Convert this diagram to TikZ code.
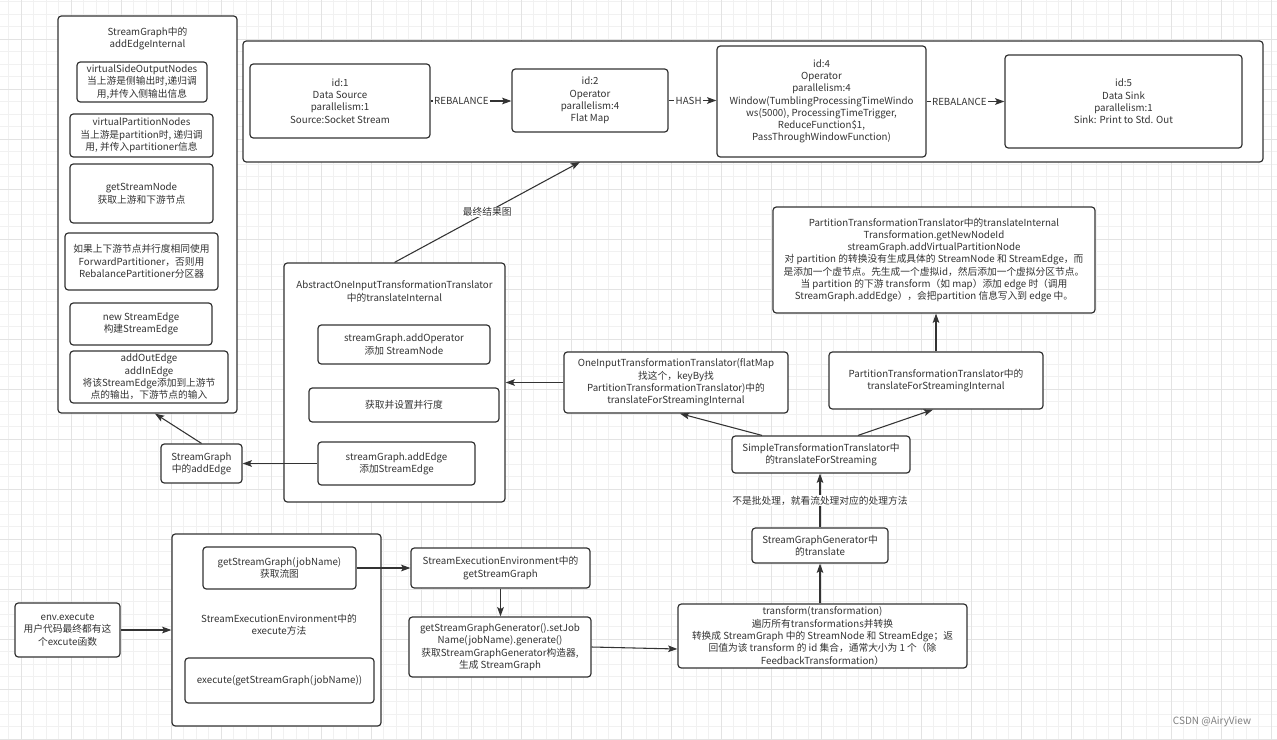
\documentclass[tikz,border=0pt]{standalone}
\usepackage{fontspec}
\setmainfont{Noto Sans CJK SC}
\usetikzlibrary{arrows.meta,calc}
\definecolor{ink}{HTML}{333333}
\definecolor{gridminor}{HTML}{F1F1F1}
\definecolor{gridmajor}{HTML}{E3E3E3}
\begin{document}
\begin{tikzpicture}[x=0.75pt,y=-0.75pt,
  every node/.style={font=\fontsize{7.3pt}{9.2pt}\selectfont, text=ink},
  box/.style 2 args={draw=ink, line width=0.9pt, rounded corners=2.5pt, fill=white, align=center, inner sep=0pt, minimum width=#1*0.75pt, minimum height=#2*0.75pt},
  lbl/.style={align=center, inner sep=0pt},
  elab/.style={fill=white, inner sep=1pt},
  arr/.style={draw=ink, line width=0.8pt, -{Stealth[length=7pt,width=5pt,inset=1.5pt]}},
  plain/.style={draw=ink, line width=0.8pt}]
\useasboundingbox (0,0) rectangle (1277,739);
\fill[white] (0,0) rectangle (1277,739);
% grid
\foreach \k in {0,...,101}{\pgfmathsetmacro\xx{8.5+12.5*\k}\draw[gridminor,line width=0.75pt] (\xx,0) -- (\xx,739);}
\foreach \k in {0,...,58}{\pgfmathsetmacro\yy{1.5+12.5*\k}\draw[gridminor,line width=0.75pt] (0,\yy) -- (1277,\yy);}
\foreach \k in {0,...,25}{\pgfmathsetmacro\xx{21+50*\k}\draw[gridmajor,line width=0.75pt] (\xx,0) -- (\xx,739);}
\foreach \k in {0,...,14}{\pgfmathsetmacro\yy{39+50*\k}\draw[gridmajor,line width=0.75pt] (0,\yy) -- (1277,\yy);}

% left container
\node[box={179}{397}] (L) at (147.5,214.5) {};
\node[lbl] (Ltitle) at (147.5,38.5) {StreamGraph中的\\addEdgeInternal};
\node[box={130}{40}] (n1) at (142,82) {virtualSideOutputNodes\\当上游是侧输出时,递归调\\用,并传入侧输出信息};
\node[box={143}{43}] (n2) at (141.5,135.5) {virtualPartitionNodes\\当上游是partition时, 递归调\\用, 并传入partitioner信息};
\node[box={143}{59}] (n3) at (141.5,193.5) {getStreamNode\\获取上游和下游节点};
\node[box={153}{57}] (n4) at (141.5,261.5) {如果上下游节点并行度相同使用\\ForwardPartitioner，否则用\\RebalancePartitioner分区器};
\node[box={142}{42}] (n5) at (141,324) {new StreamEdge\\构建StreamEdge};
\node[box={158}{52}] (n6) at (149,377) {addOutEdge\\addInEdge\\将该StreamEdge添加到上游节\\点的输出，下游节点的输入};

% top container
\node[box={1020}{121}] (T) at (753,101.5) {};
\node[box={180}{74}] (id1) at (340,101) {id:1\\Data Source\\parallelism:1\\Source:Socket Stream};
\node[box={156}{63}] (id2) at (590,100.5) {id:2\\Operator\\parallelism:4\\Flat Map};
\node[box={209}{111}] (id4) at (821.5,101.5) {id:4\\Operator\\parallelism:4\\Window(TumblingProcessingTimeWindo\\ws(5000), ProcessingTimeTrigger,\\ReduceFunction\$1,\\PassThroughWindowFunction)};
\node[box={237}{93}] (id5) at (1123.5,101.5) {id:5\\Data Sink\\parallelism:1\\Sink: Print to Std. Out};
\draw[arr] (id1.east) -- node[elab,pos=0.38]{REBALANCE} (id1.east -| id2.west);
\draw[arr] (id2.east) -- node[elab,pos=0.42]{HASH} (id2.east -| id4.west);
\draw[arr] (id4.east) -- node[elab,pos=0.42]{REBALANCE} (id4.east -| id5.west);

% abstract container
\node[box={221}{239}] (A) at (394.5,382.5) {};
\node[lbl] (Atitle) at (394.5,291.5) {AbstractOneInputTransformationTranslator\\中的translateInternal};
\node[box={172}{39}] (a1) at (404,344.5) {streamGraph.addOperator\\添加 StreamNode};
\node[box={190}{34}] (a2) at (404,405) {获取并设置并行度};
\node[box={157}{43}] (a3) at (396.5,463.5) {streamGraph.addEdge\\添加StreamEdge};
\coordinate (Tin) at (580,162);
\draw[arr] (A.north) -- node[elab,pos=0.5,inner sep=0.5pt]{最终结果图} (Tin);

% StreamGraph addEdge
\node[box={81}{39}] (sg) at (201.5,463.5) {StreamGraph\\中的addEdge};
\draw[arr] (a3.west) -- (sg.east);
\draw[arr] (sg.north) -- ([xshift=5.6pt]L.south);

% translators
\node[box={224}{61}] (oneIn) at (676,382.5) {OneInputTransformationTranslator(flatMap\\找这个，keyBy找\\PartitionTransformationTranslator)中的\\translateForStreamingInternal};
\node[box={214}{57}] (part) at (936,380.5) {PartitionTransformationTranslator中的\\translateForStreamingInternal};
\node[box={322}{106}] (PT) at (934,260) {PartitionTransformationTranslator中的translateInternal\\Transformation.getNewNodeId\\streamGraph.addVirtualPartitionNode\\对 partition 的转换没有生成具体的 StreamNode 和 StreamEdge，而\\是添加一个虚节点。先生成一个虚拟id，然后添加一个虚拟分区节点。\\当 partition 的下游 transform（如 map）添加 edge 时（调用\\StreamGraph.addEdge），会把partition 信息写入到 edge 中。};
\node[box={178}{37}] (simple) at (821,454.5) {SimpleTransformationTranslator中\\的translateForStreaming};
\node[box={136}{35}] (sgg) at (820,545.5) {StreamGraphGenerator中\\的translate};
\node[box={289}{64}] (tf) at (822.5,636) {transform(transformation)\\遍历所有transformations并转换\\转换成 StreamGraph 中的 StreamNode 和 StreamEdge；返\\回值为该 transform 的 id 集合，通常大小为 1 个（除\\FeedbackTransformation）};
\draw[arr] (oneIn.west) -- (oneIn.west -| A.east);
\draw[arr] ([xshift=-44.25pt]simple.north) -- ([xshift=3pt]oneIn.south);
\draw[arr] ([xshift=27.75pt]simple.north) -- ([xshift=-2.25pt]part.south);
\draw[arr] (part.north) -- (part.north |- PT.south);
\draw[arr] (sgg.north) -- node[elab,pos=0.5]{不是批处理，就看流处理对应的处理方法} (sgg.north |- simple.south);
\draw[arr] (tf.north -| sgg.south) -- (sgg.south);

% bottom left
\node[box={105}{54}] (env) at (67.5,630) {env.execute\\用户代码最终都有这\\个excute函数};
\node[box={209}{192}] (E) at (276.5,630) {};
\node[lbl] (Etitle) at (279,624.5) {StreamExecutionEnvironment中的\\execute方法};
\node[box={153}{42}] (e1) at (279.5,568) {getStreamGraph(jobName)\\获取流图};
\node[box={189}{45}] (e2) at (279.5,680.5) {execute(getStreamGraph(jobName))};
\node[box={179}{40}] (gsg) at (500.5,568) {StreamExecutionEnvironment中的\\getStreamGraph};
\node[box={182}{60}] (gen) at (500,647) {getStreamGraphGenerator().setJob\\Name(jobName).generate()\\获取StreamGraphGenerator构造器,\\生成 StreamGraph};
\draw[arr] (env.east) -- (env.east -| E.west);
\draw[arr] (e1.east) -- (e1.east -| gsg.west);
\draw[arr] (gsg.south) -- (gsg.south |- gen.north);
\draw[arr] (gen.east) -- ([yshift=-9.75pt]tf.west);

\node[lbl, text=gray, font=\fontsize{7.5pt}{9pt}\selectfont] (wm) at (1212,722) {CSDN @AiryView};
\end{tikzpicture}
\end{document}
